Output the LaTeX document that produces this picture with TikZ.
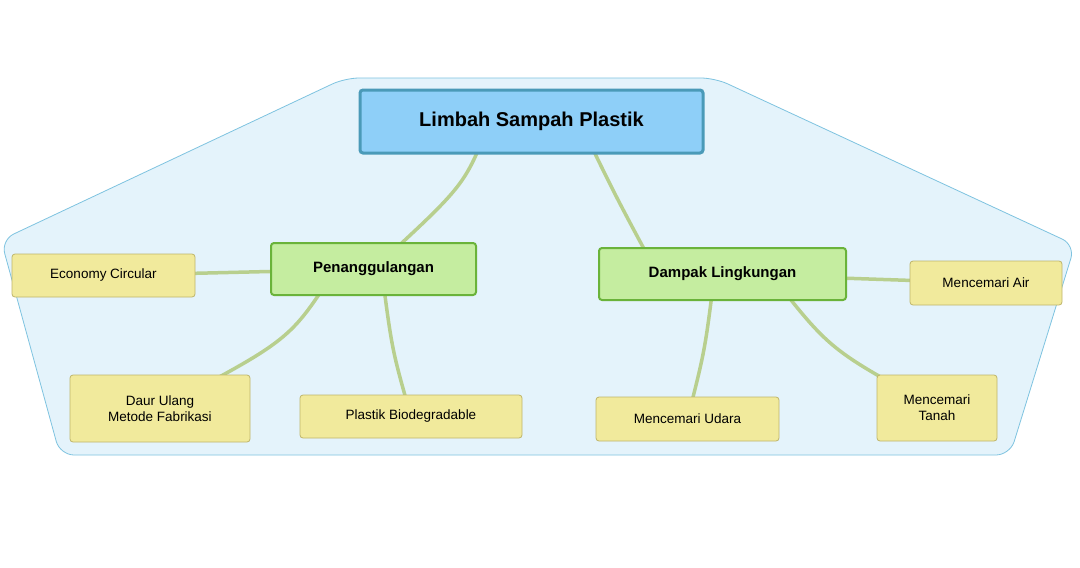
\documentclass[tikz,border=0pt]{standalone}
\usepackage{fontspec}
\setmainfont{Liberation Sans}
\usetikzlibrary{backgrounds}
\definecolor{bgfill}{HTML}{E4F3FB}
\definecolor{bgline}{HTML}{7EC3E0}
\definecolor{rootfill}{HTML}{8ECFF8}
\definecolor{rootline}{HTML}{4A9AB8}
\definecolor{midfill}{HTML}{C5EDA0}
\definecolor{midline}{HTML}{6AB33A}
\definecolor{leaffill}{HTML}{F1EA9C}
\definecolor{leafline}{HTML}{BFB56A}
\definecolor{conn}{HTML}{B8CF8E}
\begin{document}
\begin{tikzpicture}[x=1pt,y=-1pt,
 box/.style={rectangle,rounded corners=3pt,inner sep=0pt,align=center},
 rootbox/.style={box,fill=rootfill,draw=rootline,line width=3pt,font=\bfseries\fontsize{20}{24}\selectfont},
 midbox/.style={box,fill=midfill,draw=midline,line width=2pt,font=\bfseries\fontsize{15}{18}\selectfont},
 leafbox/.style={box,fill=leaffill,draw=leafline,line width=0.8pt,font=\fontsize{13.5}{16}\selectfont},
 link/.style={draw=conn,line width=3.5pt}]
\node[rootbox,minimum width=343pt,minimum height=63pt] (root) at (531.5,121.5) {Limbah Sampah Plastik};
\node[midbox,minimum width=205pt,minimum height=52pt] (pen) at (373.5,269) {Penanggulangan};
\node[midbox,minimum width=247pt,minimum height=52pt] (dam) at (722.5,274) {Dampak Lingkungan};
\node[leafbox,minimum width=183pt,minimum height=43pt] (eco) at (103.5,275.5) {Economy Circular};
\node[leafbox,minimum width=180pt,minimum height=67pt] (daur) at (160,408.5) {Daur Ulang\\Metode Fabrikasi};
\node[leafbox,minimum width=222pt,minimum height=43pt] (bio) at (411,416.5) {Plastik Biodegradable};
\node[leafbox,minimum width=183pt,minimum height=44pt] (uda) at (687.5,419) {Mencemari Udara};
\node[leafbox,minimum width=120pt,minimum height=66pt] (tan) at (937,408) {Mencemari\\Tanah};
\node[leafbox,minimum width=152pt,minimum height=44pt] (air) at (986,283) {Mencemari Air};
\begin{scope}[on background layer]
\useasboundingbox (0,0) rectangle (1080,568);
\fill[white] (0,0) rectangle (1080,568);
\draw[bgline,fill=bgfill,line width=0.8pt,rounded corners=14pt]
 (1,240) -- (345,78) -- (715,78) -- (1075,245) -- (1010,455) -- (60,455) -- cycle;
\draw[link] (root.center) ++(-42,0) .. controls (465,185) .. (pen.center) ++(56,0);
\draw[link] (root) ++(48,0) .. controls (615,195) .. ([xshift=-65pt]dam.center);
\draw[link] (pen.center) -- (eco.center);
\draw[link] ([xshift=-38pt]pen.center) .. controls (290,340) .. (daur.center);
\draw[link] ([xshift=8pt]pen.center) .. controls (392,350) .. (bio.center);
\draw[link] ([xshift=-8pt]dam.center) .. controls (705,350) .. (uda.center);
\draw[link] ([xshift=48pt]dam.center) .. controls (830,350) .. (tan.center);
\draw[link] (dam.center) -- (air.center);
\end{scope}
\end{tikzpicture}
\end{document}
